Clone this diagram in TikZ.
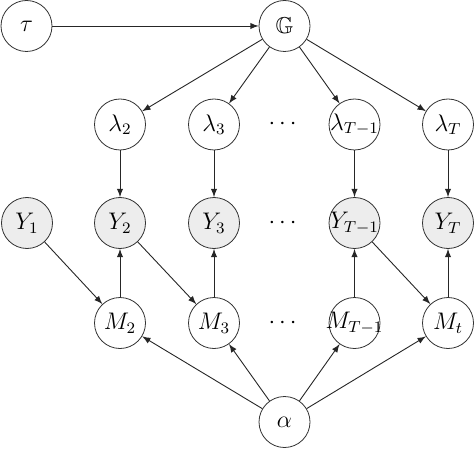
\documentclass[tikz,border=0pt]{standalone}
\usepackage{amsmath}
\usepackage{amssymb}
\usepackage{tikz}

\begin{document}
\begin{tikzpicture}[
    x=0.5pt,y=-0.5pt,
    font=\fontsize{11.5}{14}\selectfont,
    Latent/.style={circle,draw=black!80,minimum size=25.5pt,inner sep=-3pt},
    Observed/.style={Latent,fill=black!7},
    Line/.style={->,>=latex,draw=black!85,line width=0.45pt},
    ]

    \useasboundingbox (0,0) rectangle (474,448);

    % top
    \node[Latent] at (26.5,26) (tau) {$\tau$};
    \node[Latent] at (284.5,26) (G) {$\mathbb{G}$};

    % lambda row
    \node[Latent] at (120,124.5) (L2) {$\lambda_2$};
    \node[Latent] at (214,124.5) (L3) {$\lambda_3$};
    \node at (284.5,124.5) (Ldots) {$\cdots$};
    \node[Latent] at (354.5,124.5) (LT1) {$\lambda_{T-1}$};
    \node[Latent] at (448,124.5) (LT) {$\lambda_T$};

    % observed row
    \node[Observed] at (27,223) (Y1) {$Y_1$};
    \node[Observed] at (120,223) (Y2) {$Y_2$};
    \node[Observed] at (214,223) (Y3) {$Y_3$};
    \node at (284.5,223) (Ydots) {$\cdots$};
    \node[Observed] at (354.5,223) (YT1) {$Y_{T-1}$};
    \node[Observed] at (448,223) (YT) {$Y_T$};

    % M row
    \node[Latent] at (120,323) (M2) {$M_2$};
    \node[Latent] at (214,323) (M3) {$M_3$};
    \node at (284.5,323) (Mdots) {$\cdots$};
    \node[Latent] at (354.5,323) (MT1) {$M_{T-1}$};
    \node[Latent] at (448,323) (Mt) {$M_t$};

    \node[Latent] at (284.5,422) (alpha) {$\alpha$};

    \draw[Line] (tau) -- (G);
    \foreach \l in {L2,L3,LT1,LT} {
      \draw[Line] (G) -- (\l);
    }
    \draw[Line] (L2) -- (Y2);
    \draw[Line] (L3) -- (Y3);
    \draw[Line] (LT1) -- (YT1);
    \draw[Line] (LT) -- (YT);

    \draw[Line] (M2) -- (Y2);
    \draw[Line] (M3) -- (Y3);
    \draw[Line] (MT1) -- (YT1);
    \draw[Line] (Mt) -- (YT);

    \draw[Line] (Y1) -- (M2);
    \draw[Line] (Y2) -- (M3);
    \draw[Line] (YT1) -- (Mt);

    \foreach \m in {M2,M3,MT1,Mt} {
      \draw[Line] (alpha) -- (\m);
    }
  \end{tikzpicture}
\end{document}
